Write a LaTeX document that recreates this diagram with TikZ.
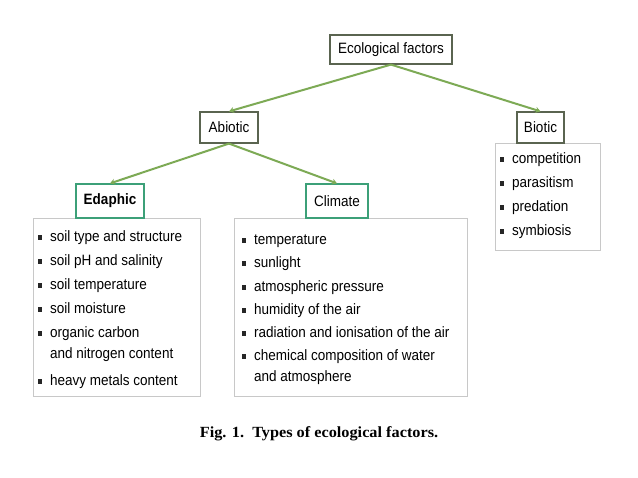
\documentclass[tikz,border=0pt]{standalone}
\usepackage{fontspec}
\setmainfont{Liberation Sans}[FakeStretch=0.9]
\newfontfamily\capfont{Liberation Serif}[FakeStretch=1.05]
\usetikzlibrary{arrows.meta}
\definecolor{arr}{RGB}{125,170,85}
\definecolor{tealb}{RGB}{60,160,120}
\definecolor{topb}{RGB}{90,100,80}
\definecolor{listb}{RGB}{200,200,200}
\tikzset{
 x=1pt,y=-1pt,
 topbox/.style={draw=topb,line width=1.2pt,fill=white,inner sep=0pt},
 subbox/.style={draw=tealb,line width=1.2pt,fill=white,inner sep=0pt},
 listbox/.style={draw=listb,line width=0.7pt},
 conn/.style={draw=arr,line width=2pt,-{Stealth[length=5pt,width=6pt]}},
 item/.style={anchor=base west,inner sep=0pt,font=\fontsize{15}{17}\selectfont,align=left},
 bul/.style={fill=black!85,minimum size=4.5pt,inner sep=0pt}
}
\newcommand{\itm}[3]{\node[bul] at (#1,#2-4.5) {}; \node[item] at (#1+10,#2) {#3};}
\begin{document}
\begin{tikzpicture}
\useasboundingbox (0,0) rectangle (638,478);
\fill[white] (0,0) rectangle (638,478);
\draw[listbox] (495,143) rectangle (600,250);
\draw[listbox] (33,218) rectangle (200,396);
\draw[listbox] (234,218) rectangle (467,396);
\node[topbox,minimum width=122pt,minimum height=29pt,font=\fontsize{15}{17}\selectfont] (eco) at (391,49.5) {Ecological factors};
\node[topbox,minimum width=58pt,minimum height=31pt,font=\fontsize{15}{17}\selectfont] (abi) at (229,127.5) {Abiotic};
\node[topbox,minimum width=47pt,minimum height=31pt,font=\fontsize{15}{17}\selectfont] (bio) at (540.5,127.5) {Biotic};
\node[subbox,minimum width=68pt,minimum height=34pt,font=\bfseries\fontsize{15}{17}\selectfont] (eda) at (110,201) {Edaphic};
\node[subbox,minimum width=62pt,minimum height=34pt,font=\fontsize{15}{17}\selectfont] (cli) at (337,201) {Climate};
\draw[conn] (eco.south) -- (abi.north);
\draw[conn] (eco.south) -- (bio.north);
\draw[conn] (abi.south) -- (eda.north);
\draw[conn] (abi.south) -- (cli.north);
\itm{502}{164}{competition}
\itm{502}{188}{parasitism}
\itm{502}{212}{predation}
\itm{502}{236}{symbiosis}
\itm{40}{242}{soil type and structure}
\itm{40}{266}{soil pH and salinity}
\itm{40}{290}{soil temperature}
\itm{40}{314}{soil moisture}
\itm{40}{338}{organic carbon}
\node[item] at (50,359) {and nitrogen content};
\itm{40}{386}{heavy metals content}
\itm{244}{245}{temperature}
\itm{244}{268}{sunlight}
\itm{244}{292}{atmospheric pressure}
\itm{244}{315}{humidity of the air}
\itm{244}{338}{radiation and ionisation of the air}
\itm{244}{361}{chemical composition of water}
\node[item] at (254,382) {and atmosphere};
\node[font=\capfont\bfseries\fontsize{15.5}{17}\selectfont,anchor=base] (cap) at (319,438) {Fig. 1.\ \ Types of ecological factors.};
\end{tikzpicture}
\end{document}
